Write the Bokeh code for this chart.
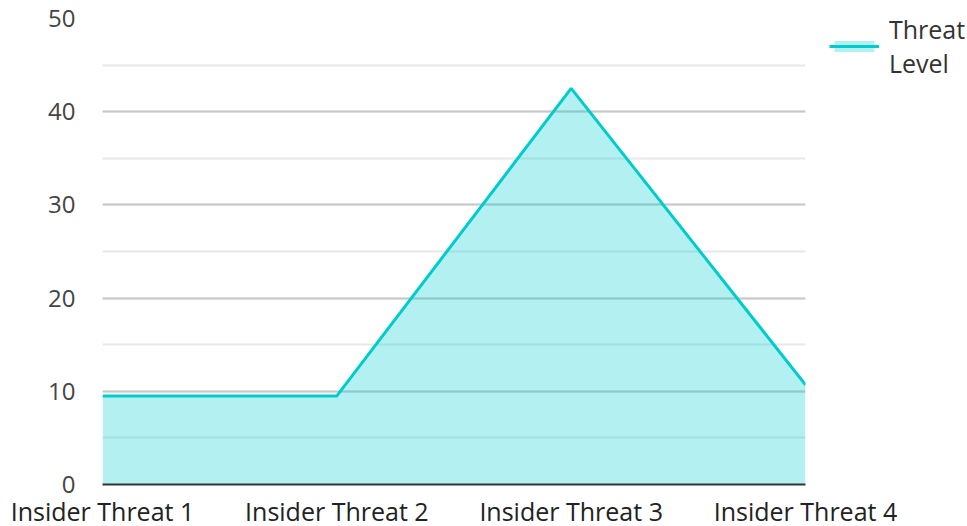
from bokeh.plotting import figure
from bokeh.models import Range1d, FixedTicker, SingleIntervalTicker, Legend, LegendItem
from bokeh.embed import file_html
from bokeh.resources import INLINE

categories = ["Insider Threat 1", "Insider Threat 2", "Insider Threat 3", "Insider Threat 4"]
threat_level = [9.5, 9.5, 42.5, 10.7]

FONT = "Open Sans"
xs = list(range(len(categories)))

p = figure(frame_width=703, frame_height=466, output_backend="svg", toolbar_location=None,
           x_range=Range1d(0, len(categories) - 1), y_range=Range1d(0, 50),
           min_border_left=102, min_border_top=18, min_border_bottom=42, min_border_right=10)
p.outline_line_color = None

area = p.varea(x=xs, y1=[0] * len(xs), y2=threat_level, fill_color="#00CED1", fill_alpha=0.3)
line = p.line(x=xs, y=threat_level, line_color="#00CCCC", line_width=3)

p.xaxis.ticker = FixedTicker(ticks=xs)
p.xaxis.major_label_overrides = {i: c for i, c in enumerate(categories)}
p.xaxis.major_tick_line_color = None
p.xaxis.minor_tick_line_color = None
p.xaxis.axis_line_color = "#333333"
p.xaxis.axis_line_width = 2
p.xaxis.major_label_standoff = 3
p.xaxis.major_label_text_font = FONT
p.xaxis.major_label_text_font_size = "25px"
p.xaxis.major_label_text_color = "#222222"

p.yaxis.ticker = SingleIntervalTicker(interval=10, num_minor_ticks=2)
p.yaxis.axis_line_color = None
p.yaxis.major_tick_line_color = None
p.yaxis.minor_tick_line_color = None
p.yaxis.major_label_standoff = 21
p.yaxis.major_label_text_font = FONT
p.yaxis.major_label_text_font_size = "24px"
p.yaxis.major_label_text_color = "#444444"

p.xgrid.grid_line_color = None
p.ygrid.grid_line_color = "#c8c8c8"
p.ygrid.grid_line_width = 2
p.ygrid.minor_grid_line_color = "#e8e8e8"
p.ygrid.minor_grid_line_width = 2

legend = Legend(items=[LegendItem(label="Threat\nLevel", renderers=[area, line])],
                location=(24, 404), orientation="vertical",
                border_line_color=None, background_fill_alpha=0,
                glyph_width=50, glyph_height=14, label_standoff=10,
                label_text_font=FONT, label_text_font_size="25px", label_text_color="#333333",
                margin=0, padding=0)
p.add_layout(legend, "right")

open("out.html", "w").write(file_html(p, INLINE))
